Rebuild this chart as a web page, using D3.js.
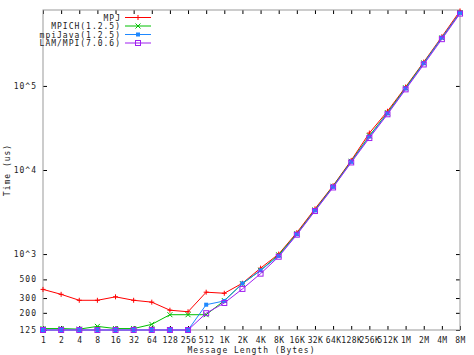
<!DOCTYPE html>
<html>
<head>
<meta charset="utf-8">
<script src="https://cdn.jsdelivr.net/npm/d3@7"></script>
<style>
  body { margin: 0; background: #fff; }
  text { font-family: "DejaVu Sans Mono", monospace; font-size: 8px; fill: #222; letter-spacing: 1px; }
</style>
</head>
<body>
<div id="chart"></div>
<script>
// message sizes (bytes) and their tick labels
const sizeLabels = ["1","2","4","8","16","32","64","128","256","512","1K","2K","4K","8K",
  "16K","32K","64K","128K","256K","512K","1M","2M","4M","8M"];
const sizes = sizeLabels.map((d, i) => Math.pow(2, i));

// time (us) per message size
const mpj = [380, 332, 282, 282, 310, 282, 268, 215, 206, 352, 342, 450, 680, 1000,
  1800, 3450, 6500, 13000, 27500, 50000, 97000, 192000, 385000, 780000];
const mpich = [130, 130, 128, 138, 130, 130, 146, 190, 190, 190, 280, 445, 640, 980,
  1750, 3350, 6400, 12700, 25500, 48000, 95000, 188000, 372000, 745000];
const mpiJava = [125, 125, 125, 125, 125, 125, 125, 125, 125, 250, 277, 448, 640, 950,
  1720, 3300, 6300, 12500, 25000, 47000, 93000, 186000, 375000, 740000];
const lamMpi = [125, 125, 125, 125, 125, 125, 125, 125, 125, 198, 262, 385, 585, 930,
  1700, 3250, 6200, 12300, 24000, 46000, 91000, 180000, 360000, 725000];

const yTicks = [125, 200, 300, 500, 1000, 10000, 100000];
const yTickLabels = ["125", "200", "300", "500", "10^3", "10^4", "10^5"];

const seriesNames = ["MPJ", "MPICH(1.2.5)", "mpiJava(1.2.5)", "LAM/MPI(7.0.6)"];
const seriesValues = [mpj, mpich, mpiJava, lamMpi];
const colors = ["#ff0000", "#00c000", "#1e88ff", "#a020f0"];
const markers = ["plus", "cross", "fsquare", "square"];

const width = 474, height = 355;
const margin = { top: 10, right: 14, bottom: 25, left: 43 };

const svg = d3.select("#chart").append("svg")
  .attr("width", width)
  .attr("height", height);

const x = d3.scaleLog().base(2)
  .domain([1, sizes[sizes.length - 1]])
  .range([margin.left, width - margin.right]);

const y = d3.scaleLog()
  .domain([125, 800000])
  .range([height - margin.bottom, margin.top]);

// axes: ticks point inward, mirrored on top and right
function styleAxis(g) {
  g.select(".domain").remove();
  g.selectAll(".tick line").attr("stroke", "#000");
  g.selectAll(".tick text").attr("fill", "#222").style("font-size", "8px");
}

svg.append("g")
  .attr("transform", `translate(0,${height - margin.bottom})`)
  .call(d3.axisBottom(x).tickValues(sizes).tickFormat((d, i) => sizeLabels[i])
    .tickSizeInner(-4).tickSizeOuter(0).tickPadding(7))
  .call(styleAxis)
  .selectAll(".tick text").style("letter-spacing", "0.4px");

svg.append("g")
  .attr("transform", `translate(0,${margin.top})`)
  .call(d3.axisTop(x).tickValues(sizes).tickFormat("").tickSizeInner(-4).tickSizeOuter(0))
  .call(styleAxis);

svg.append("g")
  .attr("transform", `translate(${margin.left},0)`)
  .call(d3.axisLeft(y).tickValues(yTicks).tickFormat((d, i) => yTickLabels[i])
    .tickSizeInner(-4).tickSizeOuter(0).tickPadding(6))
  .call(styleAxis);

svg.append("g")
  .attr("transform", `translate(${width - margin.right},0)`)
  .call(d3.axisRight(y).tickValues(yTicks).tickFormat("").tickSizeInner(-4).tickSizeOuter(0))
  .call(styleAxis);

// border
svg.append("rect")
  .attr("x", margin.left)
  .attr("y", margin.top)
  .attr("width", width - margin.left - margin.right)
  .attr("height", height - margin.top - margin.bottom)
  .attr("fill", "none")
  .attr("stroke", "#999")
  .attr("stroke-width", 1);

function drawMarker(g, type, cx, cy, color) {
  const s = 2.5;
  if (type === "plus") {
    g.append("path").attr("d", `M${cx - s},${cy}H${cx + s}M${cx},${cy - s}V${cy + s}`)
      .attr("stroke", color).attr("fill", "none");
  } else if (type === "cross") {
    g.append("path").attr("d", `M${cx - s},${cy - s}L${cx + s},${cy + s}M${cx - s},${cy + s}L${cx + s},${cy - s}`)
      .attr("stroke", color).attr("fill", "none");
  } else if (type === "fsquare") {
    g.append("rect").attr("x", cx - 2).attr("y", cy - 2).attr("width", 4).attr("height", 4)
      .attr("fill", color);
  } else {
    g.append("rect").attr("x", cx - 2.5).attr("y", cy - 2.5).attr("width", 5).attr("height", 5)
      .attr("fill", "none").attr("stroke", color);
  }
}

const line = d3.line()
  .x((d, i) => x(sizes[i]))
  .y(d => y(d));

seriesValues.forEach((vals, k) => {
  const g = svg.append("g");
  g.append("path")
    .datum(vals)
    .attr("d", line)
    .attr("fill", "none")
    .attr("stroke", colors[k])
    .attr("stroke-width", 1);
  vals.forEach((v, i) => drawMarker(g, markers[k], x(sizes[i]), y(v), colors[k]));
});

// legend
const legend = svg.append("g");
seriesNames.forEach((name, k) => {
  const ly = 17.5 + k * 8.5;
  legend.append("text")
    .attr("x", 121)
    .attr("y", ly + 3)
    .attr("text-anchor", "end")
    .text(name);
  legend.append("line")
    .attr("x1", 125).attr("x2", 151)
    .attr("y1", ly).attr("y2", ly)
    .attr("stroke", colors[k]);
  drawMarker(legend, markers[k], 138, ly, colors[k]);
});

// axis titles
svg.append("text")
  .attr("x", (margin.left + width - margin.right) / 2)
  .attr("y", 353)
  .attr("text-anchor", "middle")
  .text("Message Length (Bytes)");

svg.append("text")
  .attr("transform", `translate(10,${(margin.top + height - margin.bottom) / 2}) rotate(-90)`)
  .attr("text-anchor", "middle")
  .text("Time (us)");
</script>
</body>
</html>
